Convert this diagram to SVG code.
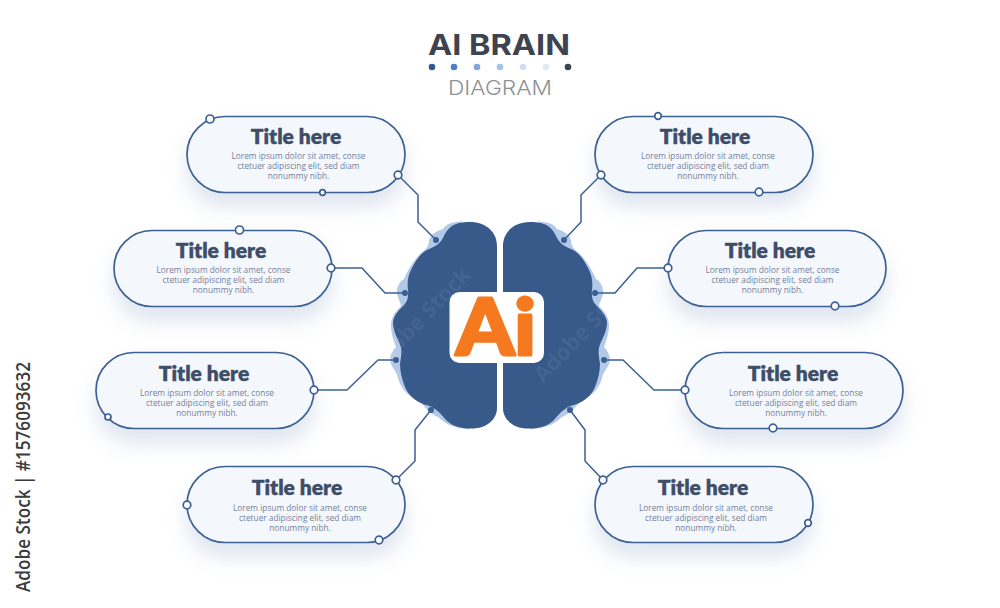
<svg xmlns="http://www.w3.org/2000/svg" xmlns:xlink="http://www.w3.org/1999/xlink" width="1000" height="608" viewBox="0 0 1000 608">
<style>
.pill{fill:#f4f7fc;stroke:#3d6093;stroke-width:1.7;filter:url(#sh)}
.title{font:800 21px Lato,"Liberation Sans",sans-serif;fill:#3e4d68;text-anchor:middle;stroke:#3e4d68;stroke-width:.35}
.body{font:400 8.300px "Open Sans","Liberation Sans",sans-serif;fill:#75809b;text-anchor:middle}
.port{fill:#fff;stroke:#3d6093;stroke-width:1.7}
.dot{fill:#3d6093}
.wire{fill:none;stroke:#3d6093;stroke-width:1.5;stroke-linejoin:round}
.halo{fill:#b3c9e8}
.lobe{fill:#375a8a}
.wm{font:700 22px "Open Sans","Liberation Sans",sans-serif;fill:#fff;fill-opacity:.07;text-anchor:middle}
</style>
<defs>
<filter id="sh" x="-20%" y="-20%" width="140%" height="170%"><feDropShadow dx="0" dy="14" stdDeviation="10" flood-color="#5f7fb5" flood-opacity=".2"/></filter>
<g id="half">
<path class="halo" d="M462 221.500C452 222 446 224 443 229C437 231 430 234 429 241C429 246 426 249 421 253C413 261 408 270 404 279C399 282 396 288 397 294C398 299 401 303 401 306C395 312 391 318 391 325C391 334 394 341 396 347C391 352 389 358 391 364C393 369 397 372 398 378C401 390 410 397 420 402C425 407 430 414 438 417C445 424 455 429 470 429Z"/>
<path class="lobe" d="M497 246V408C497 420 486 428.500 472 428.500C462 428.500 454 427 447 421C441 414 436 408 428 405.500C418 403 409 397 405 387C402 379 400 372 400 364C401 356 403 350 399 342C395 334 393 328 393 322C394 315 399 310 404 305C408 301 408.500 296 408 290C407 282 408 275 412 268C416 260 420 254 427 250C434 247 440 244 443 238C446 231 450 226 456 224C460 222.500 465 222 470 222C486 222 497 232 497 246Z"/>
</g>
</defs>
<rect width="1000" height="608" fill="#fff"/>
<g id="heading">
<text x="499" y="55" text-anchor="middle" textLength="142" lengthAdjust="spacingAndGlyphs" style="font:700 28.500px Inter,'Liberation Sans',sans-serif;fill:#3e4350">AI BRAIN</text>
<text x="500" y="95" text-anchor="middle" textLength="104" lengthAdjust="spacingAndGlyphs" style="font:300 20.500px Inter,'Liberation Sans',sans-serif;fill:#8e9196">DIAGRAM</text>
<circle cx="432" cy="67" r="3.300" fill="#35598f"/><circle cx="454" cy="67" r="3.300" fill="#4f7fc0"/><circle cx="477" cy="67" r="3.300" fill="#7da6dc"/><circle cx="500" cy="67" r="3.300" fill="#a5c2e8"/><circle cx="523" cy="67" r="3.300" fill="#cfdff3"/><circle cx="546" cy="67" r="3.300" fill="#e3e9f4"/><circle cx="568" cy="67" r="3.300" fill="#3e4350"/>
</g>
<g id="brain">
<use xlink:href="#half" href="#half"/>
<use xlink:href="#half" href="#half" transform="translate(1000 0) scale(-1 1)"/>
<text class="wm" transform="translate(425 325) rotate(-46)">Adobe Stock</text>
<text class="wm" transform="translate(590 335) rotate(-46)">Adobe Stock</text>
<rect x="449.500" y="292" width="94.500" height="71" rx="10" fill="#fff"/>
<text x="496" y="355" text-anchor="middle" textLength="80" lengthAdjust="spacingAndGlyphs" style="font:900 78px Lato,'Liberation Sans',sans-serif;fill:#f5791f;stroke:#f5791f;stroke-width:3;stroke-linejoin:round">Ai</text>
</g>
<g id="connectors">
<path class="wire" d="M398 175L418 195V222L436 240"/><path class="wire" d="M331 268H362L385 293H405"/><path class="wire" d="M314 390H347L378 360H396"/><path class="wire" d="M396 480L415 461V430L431 410"/>
<path class="wire" d="M601 175L581 195V222L564 240"/><path class="wire" d="M668 268H637L615 293H595"/><path class="wire" d="M685 390H654L623 360H604"/><path class="wire" d="M603 480L585 461V430L570 410"/>
<circle class="dot" cx="436" cy="240" r="3"/><circle class="dot" cx="405" cy="293" r="3"/><circle class="dot" cx="396" cy="360" r="3"/><circle class="dot" cx="431" cy="410" r="3"/><circle class="dot" cx="564" cy="240" r="3"/><circle class="dot" cx="595" cy="293" r="3"/><circle class="dot" cx="604" cy="360" r="3"/><circle class="dot" cx="570" cy="410" r="3"/>
</g>
<g id="node-left-1"><rect class="pill" x="187" y="116.500" width="218" height="76" rx="38"/><circle class="port" cx="210" cy="119" r="4"/><circle class="port" cx="398" cy="175" r="3.800"/><circle class="port" cx="322.500" cy="192.500" r="2.800"/><text class="title" x="296" y="144">Title here</text><text class="body" x="298.500" y="159">Lorem ipsum dolor sit amet, conse</text><text class="body" x="298.500" y="169">ctetuer adipiscing elit, sed diam</text><text class="body" x="298.500" y="179">nonummy nibh.</text></g>
<g id="node-left-2"><rect class="pill" x="114" y="230.500" width="218" height="76" rx="38"/><circle class="port" cx="239.500" cy="230" r="4"/><circle class="port" cx="331" cy="268" r="3.800"/><text class="title" x="221" y="258">Title here</text><text class="body" x="223.500" y="273">Lorem ipsum dolor sit amet, conse</text><text class="body" x="223.500" y="283">ctetuer adipiscing elit, sed diam</text><text class="body" x="223.500" y="293">nonummy nibh.</text></g>
<g id="node-left-3"><rect class="pill" x="96" y="352.500" width="218" height="76" rx="38"/><circle class="port" cx="314" cy="390" r="3.800"/><circle class="port" cx="108" cy="417" r="3"/><text class="title" x="204" y="381">Title here</text><text class="body" x="207" y="396">Lorem ipsum dolor sit amet, conse</text><text class="body" x="207" y="406">ctetuer adipiscing elit, sed diam</text><text class="body" x="207" y="416">nonummy nibh.</text></g>
<g id="node-left-4"><rect class="pill" x="187" y="466.500" width="218" height="76" rx="38"/><circle class="port" cx="187" cy="505" r="3.800"/><circle class="port" cx="396" cy="480" r="3.800"/><circle class="port" cx="379" cy="540" r="3.800"/><text class="title" x="297" y="495">Title here</text><text class="body" x="300" y="511">Lorem ipsum dolor sit amet, conse</text><text class="body" x="300" y="521">ctetuer adipiscing elit, sed diam</text><text class="body" x="300" y="531">nonummy nibh.</text></g>
<g id="node-right-1"><rect class="pill" x="595" y="116.500" width="218" height="76" rx="38"/><circle class="port" cx="658" cy="116" r="3.300"/><circle class="port" cx="601" cy="175" r="3.800"/><circle class="port" cx="759" cy="192" r="3.800"/><text class="title" x="705" y="144">Title here</text><text class="body" x="708" y="159">Lorem ipsum dolor sit amet, conse</text><text class="body" x="708" y="169">ctetuer adipiscing elit, sed diam</text><text class="body" x="708" y="179">nonummy nibh.</text></g>
<g id="node-right-2"><rect class="pill" x="668" y="230.500" width="218" height="76" rx="38"/><circle class="port" cx="668" cy="268" r="3.800"/><circle class="port" cx="835" cy="306" r="3.800"/><text class="title" x="770" y="258">Title here</text><text class="body" x="772.500" y="273">Lorem ipsum dolor sit amet, conse</text><text class="body" x="772.500" y="283">ctetuer adipiscing elit, sed diam</text><text class="body" x="772.500" y="293">nonummy nibh.</text></g>
<g id="node-right-3"><rect class="pill" x="685" y="352.500" width="218" height="76" rx="38"/><circle class="port" cx="685" cy="390" r="3.800"/><circle class="port" cx="773" cy="428" r="3.800"/><text class="title" x="793" y="381">Title here</text><text class="body" x="796" y="396">Lorem ipsum dolor sit amet, conse</text><text class="body" x="796" y="406">ctetuer adipiscing elit, sed diam</text><text class="body" x="796" y="416">nonummy nibh.</text></g>
<g id="node-right-4"><rect class="pill" x="595" y="466.500" width="218" height="76" rx="38"/><circle class="port" cx="603" cy="480" r="3.800"/><circle class="port" cx="808" cy="523" r="3.300"/><text class="title" x="703" y="495">Title here</text><text class="body" x="706" y="511">Lorem ipsum dolor sit amet, conse</text><text class="body" x="706" y="521">ctetuer adipiscing elit, sed diam</text><text class="body" x="706" y="531">nonummy nibh.</text></g>
<text transform="translate(30 592) rotate(-90)" style="font:600 20px 'Open Sans','Liberation Sans',sans-serif;fill:#3c3c3c" textLength="230" lengthAdjust="spacingAndGlyphs">Adobe Stock | #1576093632</text>
</svg>
